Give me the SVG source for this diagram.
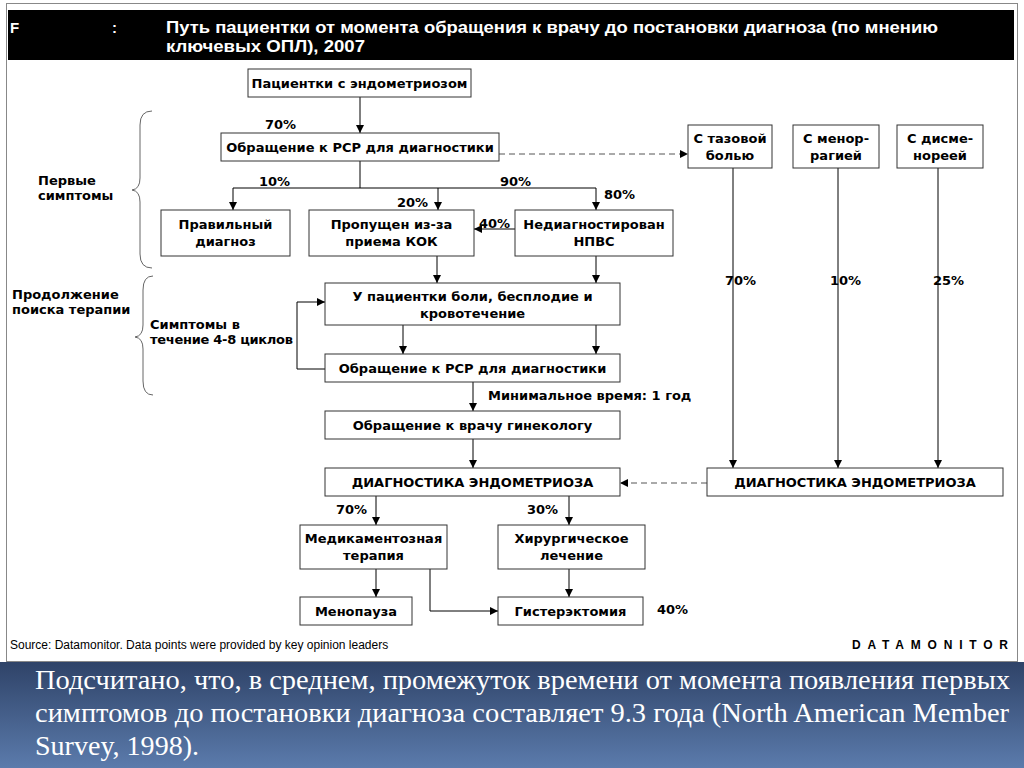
<svg xmlns="http://www.w3.org/2000/svg" width="1024" height="768" viewBox="0 0 1024 768">
<defs>
<linearGradient id="bg" x1="0" y1="0" x2="0" y2="1">
<stop offset="0" stop-color="#2f4368"/>
<stop offset="1" stop-color="#5b7bac"/>
</linearGradient>
<marker id="ah" viewBox="0 0 10 10" refX="10" refY="5" markerWidth="8" markerHeight="8" markerUnits="userSpaceOnUse" orient="auto">
<path d="M0,0 L10,5 L0,10 z" fill="#000"/>
</marker>
<style>
.box{fill:#fff;stroke:#333;stroke-width:1}
.t{font-family:"DejaVu Sans","Liberation Sans",sans-serif;font-weight:bold;font-size:13px;fill:#000;text-anchor:middle}
.l{font-family:"DejaVu Sans","Liberation Sans",sans-serif;font-weight:bold;font-size:13px;fill:#000}
.c{fill:none;stroke:#000;stroke-width:1}
.a{fill:none;stroke:#000;stroke-width:1;marker-end:url(#ah)}
.d{fill:none;stroke:#555;stroke-width:1;stroke-dasharray:6,4;marker-end:url(#ah)}
.br{fill:none;stroke:#666;stroke-width:1}
</style>
</defs>
<rect x="0" y="0" width="1024" height="768" fill="#fff"/>
<rect x="0" y="662" width="1024" height="106" fill="url(#bg)"/>
<rect x="6.5" y="3.5" width="1011" height="658" fill="#fff" stroke="#888" stroke-width="1"/>
<rect x="8" y="10" width="1006" height="50" fill="#000"/>
<g id="header" font-family="'Liberation Sans',Arial,sans-serif" font-weight="bold" fill="#fff">
<text x="10" y="33" font-size="15">F</text>
<text x="112" y="33" font-size="15">:</text>
<text x="166" y="33" font-size="16" textLength="772" lengthAdjust="spacingAndGlyphs">Путь пациентки от момента обращения к врачу до постановки диагноза (по мнению</text>
<text x="166" y="52" font-size="16" textLength="199" lengthAdjust="spacingAndGlyphs">ключевых ОПЛ), 2007</text>
</g>

<g id="connectors">
<path class="a" d="M360,97 V133"/>
<path class="d" d="M499,154 H688"/>
<path class="c" d="M360,161 V188 M233,188 H596"/>
<path class="a" d="M233,188 V210"/>
<path class="a" d="M438,188 V210"/>
<path class="a" d="M596,188 V210"/>
<path class="a" d="M515,229 H474"/>
<path class="a" d="M437,256 V283"/>
<path class="a" d="M596,256 V283"/>
<path class="a" d="M403,325 V354"/>
<path class="a" d="M596,325 V354"/>
<path class="a" d="M325,369 H297 V302 H325"/>
<path class="a" d="M473,382 V411"/>
<path class="a" d="M473,439 V468"/>
<path class="a" d="M733,168 V468"/>
<path class="a" d="M838,168 V468"/>
<path class="a" d="M938,168 V468"/>
<path class="d" d="M707,483 H620"/>
<path class="a" d="M376,496 V525"/>
<path class="a" d="M569,496 V525"/>
<path class="a" d="M376,569 V597"/>
<path class="a" d="M569,569 V597"/>
<path class="a" d="M430,569 V611 H498"/>
</g>

<g id="labels">
<text class="l" x="265" y="129">70%</text>
<text class="l" x="259" y="186">10%</text>
<text class="l" x="500" y="186">90%</text>
<text class="l" x="397" y="207">20%</text>
<text class="l" x="604" y="199">80%</text>
<text class="l" x="479" y="228">40%</text>
<text class="l" x="725" y="285">70%</text>
<text class="l" x="830" y="285">10%</text>
<text class="l" x="933" y="285">25%</text>
<text class="l" x="488" y="400">Минимальное время: 1 год</text>
<text class="l" x="336" y="514">70%</text>
<text class="l" x="527" y="514">30%</text>
<text class="l" x="657" y="614">40%</text>
</g>

<g id="brace1">
<path class="br" d="M152,111 Q140,111 140,125 V178 Q140,189 132,190 Q140,191 140,202 V254 Q140,268 152,268"/>
<text class="l" x="38" y="185">Первые</text>
<text class="l" x="38" y="200">симптомы</text>
</g>
<g id="brace2">
<path class="br" d="M153,276 Q143,276 143,290 V325 Q143,336 135,337 Q143,338 143,349 V381 Q143,395 153,395"/>
<text class="l" x="12" y="299">Продолжение</text>
<text class="l" x="12" y="314">поиска терапии</text>
<text class="l" x="150" y="329">Симптомы в</text>
<text class="l" x="150" y="344" textLength="143">течение 4-8 циклов</text>
</g>

<g id="n1"><rect class="box" x="248" y="69" width="223" height="28"/><text class="t" x="359.5" y="88">Пациентки с эндометриозом</text></g>
<g id="n2"><rect class="box" x="221" y="133" width="278" height="28"/><text class="t" x="360" y="152">Обращение к РСР для диагностики</text></g>
<g id="n3"><rect class="box" x="161" y="210" width="129" height="46"/><text class="t" x="225.5" y="229">Правильный</text><text class="t" x="225.5" y="246">диагноз</text></g>
<g id="n4"><rect class="box" x="309" y="210" width="165" height="46"/><text class="t" x="391.5" y="229">Пропущен из-за</text><text class="t" x="391.5" y="246">приема КОК</text></g>
<g id="n5"><rect class="box" x="515" y="210" width="158" height="46"/><text class="t" x="594" y="229">Недиагностирован</text><text class="t" x="594" y="246">НПВС</text></g>
<g id="n6"><rect class="box" x="688" y="125" width="84" height="43"/><text class="t" x="730" y="143">С тазовой</text><text class="t" x="730" y="160">болью</text></g>
<g id="n7"><rect class="box" x="793" y="125" width="86" height="43"/><text class="t" x="836" y="143">С менор-</text><text class="t" x="836" y="160">рагией</text></g>
<g id="n8"><rect class="box" x="897" y="125" width="86" height="43"/><text class="t" x="940" y="143">С дисме-</text><text class="t" x="940" y="160">нореей</text></g>
<g id="n9"><rect class="box" x="325" y="283" width="295" height="42"/><text class="t" x="472.5" y="301">У пациентки боли, бесплодие и</text><text class="t" x="472.5" y="318">кровотечение</text></g>
<g id="n10"><rect class="box" x="325" y="354" width="295" height="28"/><text class="t" x="472.5" y="373">Обращение к РСР для диагностики</text></g>
<g id="n11"><rect class="box" x="325" y="411" width="295" height="28"/><text class="t" x="472.5" y="430">Обращение к врачу гинекологу</text></g>
<g id="n12"><rect class="box" x="325" y="468" width="295" height="28"/><text class="t" x="472.5" y="487">ДИАГНОСТИКА ЭНДОМЕТРИОЗА</text></g>
<g id="n13"><rect class="box" x="707" y="468" width="296" height="28"/><text class="t" x="855" y="487">ДИАГНОСТИКА ЭНДОМЕТРИОЗА</text></g>
<g id="n14"><rect class="box" x="300" y="525" width="147" height="44"/><text class="t" x="373.5" y="543">Медикаментозная</text><text class="t" x="373.5" y="560">терапия</text></g>
<g id="n15"><rect class="box" x="498" y="525" width="147" height="44"/><text class="t" x="571.5" y="543">Хирургическое</text><text class="t" x="571.5" y="560">лечение</text></g>
<g id="n16"><rect class="box" x="300" y="597" width="112" height="28"/><text class="t" x="356" y="616">Менопауза</text></g>
<g id="n17"><rect class="box" x="498" y="597" width="145" height="28"/><text class="t" x="570.5" y="616">Гистерэктомия</text></g>

<g id="footer">
<text x="10" y="649" font-family="'Liberation Sans',Arial,sans-serif" font-size="12" fill="#000">Source: Datamonitor. Data points were provided by key opinion leaders</text>
<text x="852" y="649" font-family="'Liberation Sans',Arial,sans-serif" font-size="12" font-weight="bold" fill="#000" textLength="156" lengthAdjust="spacing">DATAMONITOR</text>
</g>
<g id="note" font-family="'Liberation Serif','Times New Roman',serif" font-size="27" fill="#fff">
<text x="35" y="689" textLength="975" lengthAdjust="spacingAndGlyphs">Подсчитано, что, в среднем, промежуток времени от момента появления первых</text>
<text x="35" y="722" textLength="974" lengthAdjust="spacingAndGlyphs">симптомов до постановки диагноза составляет 9.3 года (North American Member</text>
<text x="35" y="755" textLength="164" lengthAdjust="spacingAndGlyphs">Survey, 1998).</text>
</g>
</svg>
